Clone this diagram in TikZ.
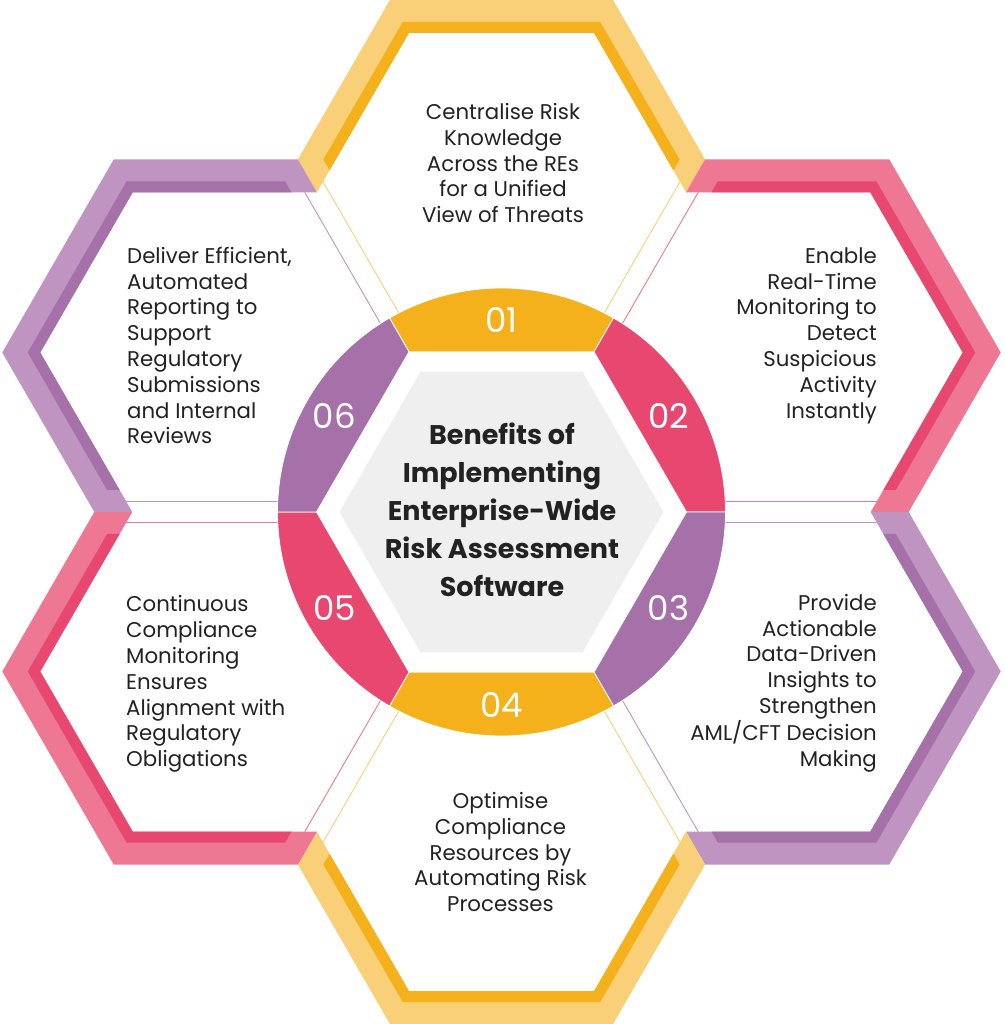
\documentclass[tikz,border=0pt]{standalone}
\usepackage{fontspec}
\setmainfont{Poppins}
\definecolor{ydark}{HTML}{F4B11B}
\definecolor{ylight}{HTML}{F9D077}
\definecolor{pdark}{HTML}{E8486F}
\definecolor{plight}{HTML}{EE7793}
\definecolor{vdark}{HTML}{A670A9}
\definecolor{vlight}{HTML}{BF94C1}
\definecolor{hubgray}{HTML}{EFEFEF}
\definecolor{ink}{HTML}{222222}
\tikzset{
  seg/.style={draw=white, line width=0.8pt},
  num/.style={text=white, inner sep=0pt, font=\fontsize{34}{34}\selectfont},
  body/.style={text=ink, inner sep=0pt, font=\fontsize{21.3}{25.8}\selectfont},
  hexline/.style={line width=0.9pt},
}
\begin{document}
\begin{tikzpicture}[x=1pt,y=1pt]
\useasboundingbox (-501.5,-512) rectangle (502.5,512);
% hexagon 01 (top)
\begin{scope}[rotate=0]
  \begin{scope}
    \clip (-185,319) -- (-92.5,158.8) -- (92.5,158.8) -- (185,319) -- (92.5,479.2) -- (-92.5,479.2) -- cycle;
    \draw[hexline, ylight] (-215,393.5) -- (-86,170) -- (86,170) -- (215,393.5);
  \end{scope}
  \begin{scope}
    \clip (0,0) -- (60:1000) -- (120:1000) -- cycle;
    \fill[ylight] (-223,319) -- (-111.5,512.1) -- (111.5,512.1) -- (223,319) -- (185,319) -- (92.5,479.2) -- (-92.5,479.2) -- (-185,319) -- cycle;
  \end{scope}
  \begin{scope}
    \clip (0,44) -- +(60:1000) -- +(120:1000) -- cycle;
    \fill[ydark] (-197.5,319) -- (-98.75,490) -- (98.75,490) -- (197.5,319) -- (185,319) -- (92.5,479.2) -- (-92.5,479.2) -- (-185,319) -- cycle;
  \end{scope}
\end{scope}
% hexagon 02
\begin{scope}[rotate=-60]
  \begin{scope}
    \clip (-185,319) -- (-92.5,158.8) -- (92.5,158.8) -- (185,319) -- (92.5,479.2) -- (-92.5,479.2) -- cycle;
    \draw[hexline, plight] (-215,393.5) -- (-86,170) -- (86,170) -- (215,393.5);
  \end{scope}
  \begin{scope}
    \clip (0,0) -- (60:1000) -- (120:1000) -- cycle;
    \fill[plight] (-223,319) -- (-111.5,512.1) -- (111.5,512.1) -- (223,319) -- (185,319) -- (92.5,479.2) -- (-92.5,479.2) -- (-185,319) -- cycle;
  \end{scope}
  \begin{scope}
    \clip (0,44) -- +(60:1000) -- +(120:1000) -- cycle;
    \fill[pdark] (-197.5,319) -- (-98.75,490) -- (98.75,490) -- (197.5,319) -- (185,319) -- (92.5,479.2) -- (-92.5,479.2) -- (-185,319) -- cycle;
  \end{scope}
\end{scope}
% hexagon 03
\begin{scope}[rotate=-120]
  \begin{scope}
    \clip (-185,319) -- (-92.5,158.8) -- (92.5,158.8) -- (185,319) -- (92.5,479.2) -- (-92.5,479.2) -- cycle;
    \draw[hexline, vlight] (-215,393.5) -- (-86,170) -- (86,170) -- (215,393.5);
  \end{scope}
  \begin{scope}
    \clip (0,0) -- (60:1000) -- (120:1000) -- cycle;
    \fill[vlight] (-223,319) -- (-111.5,512.1) -- (111.5,512.1) -- (223,319) -- (185,319) -- (92.5,479.2) -- (-92.5,479.2) -- (-185,319) -- cycle;
  \end{scope}
  \begin{scope}
    \clip (0,44) -- +(60:1000) -- +(120:1000) -- cycle;
    \fill[vdark] (-197.5,319) -- (-98.75,490) -- (98.75,490) -- (197.5,319) -- (185,319) -- (92.5,479.2) -- (-92.5,479.2) -- (-185,319) -- cycle;
  \end{scope}
\end{scope}
% hexagon 04 (bottom)
\begin{scope}[rotate=180]
  \begin{scope}
    \clip (-185,319) -- (-92.5,158.8) -- (92.5,158.8) -- (185,319) -- (92.5,479.2) -- (-92.5,479.2) -- cycle;
    \draw[hexline, ylight] (-215,393.5) -- (-86,170) -- (86,170) -- (215,393.5);
  \end{scope}
  \begin{scope}
    \clip (0,0) -- (60:1000) -- (120:1000) -- cycle;
    \fill[ylight] (-223,319) -- (-111.5,512.1) -- (111.5,512.1) -- (223,319) -- (185,319) -- (92.5,479.2) -- (-92.5,479.2) -- (-185,319) -- cycle;
  \end{scope}
  \begin{scope}
    \clip (0,44) -- +(60:1000) -- +(120:1000) -- cycle;
    \fill[ydark] (-197.5,319) -- (-98.75,490) -- (98.75,490) -- (197.5,319) -- (185,319) -- (92.5,479.2) -- (-92.5,479.2) -- (-185,319) -- cycle;
  \end{scope}
\end{scope}
% hexagon 05
\begin{scope}[rotate=120]
  \begin{scope}
    \clip (-185,319) -- (-92.5,158.8) -- (92.5,158.8) -- (185,319) -- (92.5,479.2) -- (-92.5,479.2) -- cycle;
    \draw[hexline, plight] (-215,393.5) -- (-86,170) -- (86,170) -- (215,393.5);
  \end{scope}
  \begin{scope}
    \clip (0,0) -- (60:1000) -- (120:1000) -- cycle;
    \fill[plight] (-223,319) -- (-111.5,512.1) -- (111.5,512.1) -- (223,319) -- (185,319) -- (92.5,479.2) -- (-92.5,479.2) -- (-185,319) -- cycle;
  \end{scope}
  \begin{scope}
    \clip (0,44) -- +(60:1000) -- +(120:1000) -- cycle;
    \fill[pdark] (-197.5,319) -- (-98.75,490) -- (98.75,490) -- (197.5,319) -- (185,319) -- (92.5,479.2) -- (-92.5,479.2) -- (-185,319) -- cycle;
  \end{scope}
\end{scope}
% hexagon 06
\begin{scope}[rotate=60]
  \begin{scope}
    \clip (-185,319) -- (-92.5,158.8) -- (92.5,158.8) -- (185,319) -- (92.5,479.2) -- (-92.5,479.2) -- cycle;
    \draw[hexline, vlight] (-215,393.5) -- (-86,170) -- (86,170) -- (215,393.5);
  \end{scope}
  \begin{scope}
    \clip (0,0) -- (60:1000) -- (120:1000) -- cycle;
    \fill[vlight] (-223,319) -- (-111.5,512.1) -- (111.5,512.1) -- (223,319) -- (185,319) -- (92.5,479.2) -- (-92.5,479.2) -- (-185,319) -- cycle;
  \end{scope}
  \begin{scope}
    \clip (0,44) -- +(60:1000) -- +(120:1000) -- cycle;
    \fill[vdark] (-197.5,319) -- (-98.75,490) -- (98.75,490) -- (197.5,319) -- (185,319) -- (92.5,479.2) -- (-92.5,479.2) -- (-185,319) -- cycle;
  \end{scope}
\end{scope}
% ring
\path[seg, fill=ydark] (60:224) arc[start angle=60, end angle=120, radius=224] -- (120:185) -- (60:185) -- cycle;
\path[seg, fill=pdark] (0:224) arc[start angle=0, end angle=60, radius=224] -- (60:185) -- (0:185) -- cycle;
\path[seg, fill=vdark] (-60:224) arc[start angle=-60, end angle=0, radius=224] -- (0:185) -- (-60:185) -- cycle;
\path[seg, fill=ydark] (-120:224) arc[start angle=-120, end angle=-60, radius=224] -- (-60:185) -- (-120:185) -- cycle;
\path[seg, fill=pdark] (180:224) arc[start angle=180, end angle=240, radius=224] -- (240:185) -- (180:185) -- cycle;
\path[seg, fill=vdark] (120:224) arc[start angle=120, end angle=180, radius=224] -- (180:185) -- (120:185) -- cycle;
\fill[hubgray] (0:162) -- (60:162) -- (120:162) -- (180:162) -- (240:162) -- (300:162) -- cycle;
\node[num] (n1) at (90:192) {01};
\node[num] (n2) at (30:193) {02};
\node[num] (n3) at (-30:193) {03};
\node[num] (n4) at (-90:193) {04};
\node[num] (n5) at (-150:193) {05};
\node[num] (n6) at (150:193) {06};
\node[text=ink, align=center, inner sep=0pt, font=\fontsize{27}{38}\selectfont\bfseries] (hub) at (0.5,2)
  {Benefits of\\Implementing\\Enterprise-Wide\\Risk Assessment\\Software};
% texts
\node[body, align=center] (b1) at (1.5,349) {Centralise Risk\\Knowledge\\Across the REs\\for a Unified\\View of Threats};
\node[body, align=right, anchor=east] (b2) at (375.5,176.5) {Enable\\Real-Time\\Monitoring to\\Detect\\Suspicious\\Activity\\Instantly};
\node[body, align=right, anchor=east] (b3) at (375.5,-171) {Provide\\Actionable\\Data-Driven\\Insights to\\Strengthen\\AML/CFT Decision\\Making};
\node[body, align=center] (b4) at (-1,-340) {Optimise\\Compliance\\Resources by\\Automating Risk\\Processes};
\node[body, align=left, anchor=west] (b5) at (-375.5,-172) {Continuous\\Compliance\\Monitoring\\Ensures\\Alignment with\\Regulatory\\Obligations};
\node[body, align=left, anchor=west] (b6) at (-374.5,166.5) {Deliver Efficient,\\Automated\\Reporting to\\Support\\Regulatory\\Submissions\\and Internal\\Reviews};
\end{tikzpicture}
\end{document}
